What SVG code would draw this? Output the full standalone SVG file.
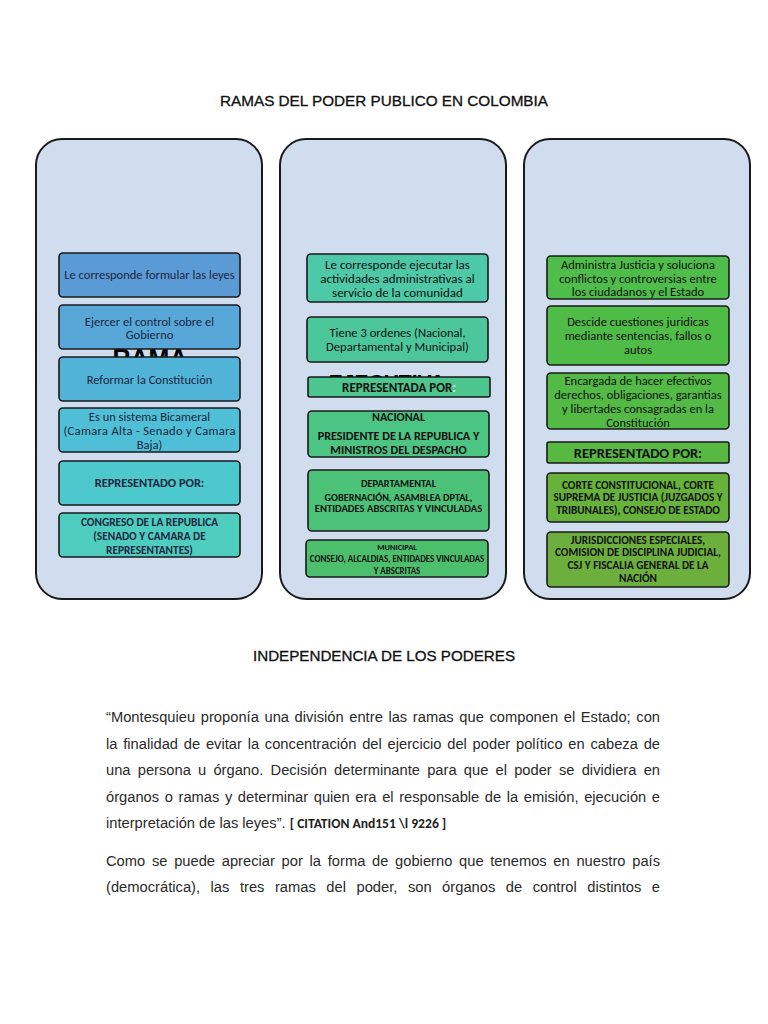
<svg xmlns="http://www.w3.org/2000/svg" width="768" height="1024" viewBox="0 0 768 1024">
<style>
.bg{fill:#ffffff}
.col{fill:#d0ddef;stroke:#1a1a1a;stroke-width:2}
.box{stroke:#1a1a1a;stroke-width:1.6}
.t{font-family:Carlito,Lato,"Liberation Sans",sans-serif;text-anchor:middle;fill:#111}
.tb{font-family:Carlito,Lato,"Liberation Sans",sans-serif;text-anchor:middle;fill:#111;font-weight:bold}
.navy{fill:#1c2740}
.hid{font-family:"Liberation Sans",Arial,sans-serif;font-weight:bold;fill:#000;text-anchor:middle}
.h{font-family:"Liberation Sans",Arial,sans-serif;font-size:14px;fill:#111;stroke:#111;stroke-width:0.3;text-anchor:middle}
.p{font-family:"Liberation Sans",Arial,sans-serif;font-size:14.7px;fill:#2a2a2a}
.cit{font-family:Carlito,Lato,"Liberation Sans",sans-serif;font-size:13.6px;font-weight:bold;fill:#222}
</style>
<rect class="bg" x="0" y="0" width="768" height="1024"/>

<text class="h" x="384" y="106" textLength="328" lengthAdjust="spacingAndGlyphs">RAMAS DEL PODER PUBLICO EN COLOMBIA</text>

<!-- Column 1 -->
<g id="col-legislativa">
<rect class="col" x="36" y="139" width="226" height="460" rx="26"/>
<text class="hid" x="150" y="367" font-size="25">RAMA</text>
</g>
<g id="leg-1">
<rect class="box" x="59" y="253" width="181" height="44" rx="4" fill="#5b9bd5"/>
<text class="t navy" x="149.5" y="279" font-size="12.5">Le corresponde formular las leyes</text>
</g>
<g id="leg-2">
<rect class="box" x="59" y="305" width="181" height="44" rx="4" fill="#57a7d8"/>
<text class="t navy" x="149.5" y="326" font-size="12.5">Ejercer el control sobre el</text>
<text class="t navy" x="149.5" y="339" font-size="12.5">Gobierno</text>
</g>
<g id="leg-3">
<rect class="box" x="59" y="357" width="181" height="44" rx="4" fill="#52b3d8"/>
<text class="t navy" x="149.5" y="384" font-size="12.5">Reformar la Constitución</text>
</g>
<g id="leg-4">
<rect class="box" x="59" y="408" width="181" height="44" rx="4" fill="#4ebfd6"/>
<text class="t navy" x="149.5" y="420.5" font-size="12.5">Es un sistema Bicameral</text>
<text class="t navy" x="149.5" y="434.5" font-size="12.5" textLength="172" lengthAdjust="spacing">(Camara Alta - Senado y Camara</text>
<text class="t navy" x="149.5" y="448.5" font-size="12.5">Baja)</text>
</g>
<g id="leg-5">
<rect class="box" x="59" y="461" width="181" height="44" rx="4" fill="#4dc8cd"/>
<text class="tb navy" x="149.5" y="487" font-size="12.4">REPRESENTADO POR:</text>
</g>
<g id="leg-6">
<rect class="box" x="59" y="513" width="181" height="44" rx="4" fill="#4ecdbf"/>
<text class="tb navy" x="149.5" y="526" font-size="11.3">CONGRESO DE LA REPUBLICA</text>
<text class="tb navy" x="149.5" y="540" font-size="11.3">(SENADO Y CAMARA DE</text>
<text class="tb navy" x="149.5" y="553.5" font-size="11.3">REPRESENTANTES)</text>
</g>

<!-- Column 2 -->
<g id="col-ejecutiva">
<rect class="col" x="280" y="139" width="226" height="460" rx="26"/>
<text class="hid" x="387" y="389" font-size="21">EJECUTIVA</text>
</g>
<g id="eje-1">
<rect class="box" x="307" y="254" width="181" height="48" rx="4" fill="#4dc9a8"/>
<text class="t" x="397.5" y="269" font-size="13">Le corresponde ejecutar las</text>
<text class="t" x="397.5" y="283" font-size="13">actividades administrativas al</text>
<text class="t" x="397.5" y="297" font-size="13">servicio de la comunidad</text>
</g>
<g id="eje-2">
<rect class="box" x="307" y="317" width="181" height="45" rx="4" fill="#4cc79b"/>
<text class="t" x="397.5" y="337" font-size="12.6">Tiene 3 ordenes (Nacional,</text>
<text class="t" x="397.5" y="351" font-size="12.6">Departamental y Municipal)</text>
</g>
<g id="eje-3">
<rect class="box" x="308" y="377" width="182" height="20" rx="2" fill="#4cc58e"/>
<text class="tb" x="399" y="391.5" font-size="13">REPRESENTADA POR<tspan fill="#d4f2e4">:</tspan></text>
</g>
<g id="eje-4">
<rect class="box" x="308" y="411" width="181" height="46" rx="4" fill="#4cc483"/>
<text class="tb" x="398.5" y="421" font-size="12">NACIONAL</text>
<text class="tb" x="398.5" y="440" font-size="12.2">PRESIDENTE DE LA REPUBLICA Y</text>
<text class="tb" x="398.5" y="454" font-size="12.2">MINISTROS DEL DESPACHO</text>
</g>
<g id="eje-5">
<rect class="box" x="308" y="470" width="181" height="61" rx="4" fill="#4cc279"/>
<text class="tb" x="398.5" y="486.5" font-size="10.4">DEPARTAMENTAL</text>
<text class="tb" x="398.5" y="500.5" font-size="10.2">GOBERNACIÓN, ASAMBLEA DPTAL,</text>
<text class="tb" x="398.5" y="512" font-size="10.6">ENTIDADES ABSCRITAS Y VINCULADAS</text>
</g>
<g id="eje-6">
<rect class="box" x="306" y="540" width="182" height="37" rx="4" fill="#4cbf6c"/>
<text class="tb" x="397" y="549.5" font-size="8.4">MUNICIPAL</text>
<text class="tb" x="397" y="562" font-size="8.9">CONSEJO, ALCALDIAS, ENTIDADES VINCULADAS</text>
<text class="tb" x="397" y="573.5" font-size="8.9">Y ABSCRITAS</text>
</g>

<!-- Column 3 -->
<g id="col-judicial">
<rect class="col" x="524" y="139" width="226" height="460" rx="26"/>
</g>
<g id="jud-1">
<rect class="box" x="547" y="256" width="182" height="43" rx="4" fill="#4fbd4a"/>
<text class="t" x="638" y="269" font-size="12.5">Administra Justicia y soluciona</text>
<text class="t" x="638" y="282.5" font-size="12.5">conflictos y controversias entre</text>
<text class="t" x="638" y="296" font-size="12.5">los ciudadanos y el Estado</text>
</g>
<g id="jud-2">
<rect class="box" x="547" y="306" width="182" height="59" rx="4" fill="#50bc48"/>
<text class="t" x="638" y="326" font-size="12.5">Descide cuestiones juridicas</text>
<text class="t" x="638" y="340" font-size="12.5">mediante sentencias, fallos o</text>
<text class="t" x="638" y="354" font-size="12.5">autos</text>
</g>
<g id="jud-3">
<rect class="box" x="547" y="373" width="182" height="56" rx="4" fill="#52ba45"/>
<text class="t" x="638" y="385" font-size="12.5">Encargada de hacer efectivos</text>
<text class="t" x="638" y="399" font-size="12.5">derechos, obligaciones, garantias</text>
<text class="t" x="638" y="413" font-size="12.5">y libertades consagradas en la</text>
<text class="t" x="638" y="427" font-size="12.5">Constitución</text>
</g>
<g id="jud-4">
<rect class="box" x="547" y="442" width="182" height="21" rx="2" fill="#57b842"/>
<text class="tb" x="638" y="457.5" font-size="14.5">REPRESENTADO POR:</text>
</g>
<g id="jud-5">
<rect class="box" x="547" y="473" width="182" height="49" rx="4" fill="#66b23a"/>
<text class="tb" x="638" y="488.5" font-size="11.2">CORTE CONSTITUCIONAL, CORTE</text>
<text class="tb" x="638" y="501" font-size="11.2">SUPREMA DE JUSTICIA (JUZGADOS Y</text>
<text class="tb" x="638" y="514" font-size="11.2">TRIBUNALES), CONSEJO DE ESTADO</text>
</g>
<g id="jud-6">
<rect class="box" x="547" y="532" width="182" height="55" rx="4" fill="#6daf3c"/>
<text class="tb" x="638" y="543.5" font-size="11.2">JURISDICCIONES ESPECIALES,</text>
<text class="tb" x="638" y="556" font-size="11.2">COMISION DE DISCIPLINA JUDICIAL,</text>
<text class="tb" x="638" y="569" font-size="11.2">CSJ Y FISCALIA GENERAL DE LA</text>
<text class="tb" x="638" y="582" font-size="11.2">NACIÓN</text>
</g>

<text class="h" x="384" y="661" textLength="262" lengthAdjust="spacingAndGlyphs">INDEPENDENCIA DE LOS PODERES</text>

<text class="p" x="106" y="722" word-spacing="1.5" textLength="554" lengthAdjust="spacing">“Montesquieu proponía una división entre las ramas que componen el Estado; con</text>
<text class="p" x="106" y="749" word-spacing="1.7" textLength="554" lengthAdjust="spacing">la finalidad de evitar la concentración del ejercicio del poder político en cabeza de</text>
<text class="p" x="106" y="775" word-spacing="3.1" textLength="554" lengthAdjust="spacing">una persona u órgano. Decisión determinante para que el poder se dividiera en</text>
<text class="p" x="106" y="802" word-spacing="1.5" textLength="554" lengthAdjust="spacing">órganos o ramas y determinar quien era el responsable de la emisión, ejecución e</text>
<text class="p" x="106" y="828">interpretación de las leyes”. <tspan class="cit">[ CITATION And151 \l 9226 ]</tspan></text>

<text class="p" x="106" y="866" word-spacing="2.6" textLength="554" lengthAdjust="spacing">Como se puede apreciar por la forma de gobierno que tenemos en nuestro país</text>
<text class="p" x="106" y="892" word-spacing="6.4" textLength="554" lengthAdjust="spacing">(democrática), las tres ramas del poder, son órganos de control distintos e</text>
</svg>
